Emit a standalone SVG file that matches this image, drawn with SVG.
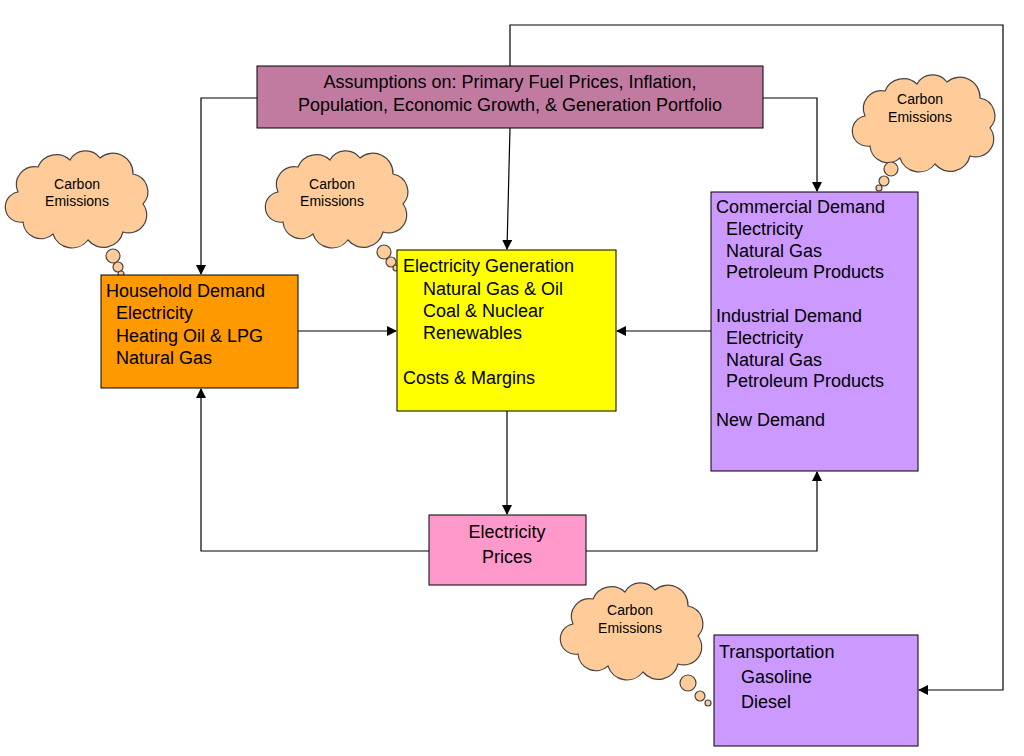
<svg xmlns="http://www.w3.org/2000/svg" width="1024" height="756" viewBox="0 0 1024 756">
<style>
text{font-family:"Liberation Sans",Arial,sans-serif;fill:#000}
.t{font-size:18px}
.c{font-size:14px;text-anchor:middle}
.box{stroke:#000;stroke-width:1}
.cl{fill:#FFCC99;stroke:#444;stroke-width:1.2}
.ln{fill:none;stroke:#000;stroke-width:1.2}
</style>
<defs>
<marker id="a" markerWidth="10" markerHeight="10" refX="9" refY="5" orient="auto" markerUnits="userSpaceOnUse">
<path d="M0,0 L10,5 L0,10 Z" fill="#000"/>
</marker>
<path id="cloud" d="M10,40 A18,18 0 0 1 30,15 A20,20 0 0 1 62,8 A18,18 0 0 1 92,6 A20,20 0 0 1 125,22 A18,18 0 0 1 135,52 A18,18 0 0 1 115,80 A20,20 0 0 1 80,88 A20,20 0 0 1 45,82 A18,18 0 0 1 15,70 A15,15 0 0 1 10,40 Z"/>
</defs>
<rect width="1024" height="756" fill="#fff"/>
<g id="connectors">
<polyline class="ln" points="257,98 201,98 201,274" marker-end="url(#a)"/>
<line class="ln" x1="510" y1="128" x2="507" y2="249" marker-end="url(#a)"/>
<polyline class="ln" points="763,98 817,98 817,191" marker-end="url(#a)"/>
<line class="ln" x1="298" y1="331" x2="396" y2="331" marker-end="url(#a)"/>
<line class="ln" x1="711" y1="331" x2="617" y2="331" marker-end="url(#a)"/>
<line class="ln" x1="507" y1="411" x2="507" y2="514" marker-end="url(#a)"/>
<polyline class="ln" points="429,551 201,551 201,389" marker-end="url(#a)"/>
<polyline class="ln" points="586,551 817,551 817,472" marker-end="url(#a)"/>
<polyline class="ln" points="510,66 510,25 1003,25 1003,690 919,690" marker-end="url(#a)"/>
</g>
<g id="cloud1">
<use href="#cloud" class="cl" transform="translate(8,152)"/>
<circle class="cl" cx="113" cy="256" r="7"/><circle class="cl" cx="118" cy="267" r="5"/><circle class="cl" cx="121" cy="274" r="3"/>
<text class="c" x="77" y="189">Carbon</text><text class="c" x="77" y="206">Emissions</text>
</g>
<g id="cloud2">
<use href="#cloud" class="cl" transform="translate(268,152)"/>
<circle class="cl" cx="384" cy="252" r="7"/><circle class="cl" cx="391" cy="262" r="5"/><circle class="cl" cx="396" cy="268" r="3"/>
<text class="c" x="332" y="189">Carbon</text><text class="c" x="332" y="206">Emissions</text>
</g>
<g id="cloud3">
<use href="#cloud" class="cl" transform="translate(855,76)"/>
<circle class="cl" cx="891" cy="169" r="7"/><circle class="cl" cx="884" cy="181" r="5"/><circle class="cl" cx="879" cy="188" r="3"/>
<text class="c" x="920" y="104">Carbon</text><text class="c" x="920" y="122">Emissions</text>
</g>
<g id="cloud4">
<use href="#cloud" class="cl" transform="translate(563,584)"/>
<circle class="cl" cx="688" cy="683" r="8"/><circle class="cl" cx="700" cy="696" r="5"/><circle class="cl" cx="708" cy="703" r="3"/>
<text class="c" x="630" y="615">Carbon</text><text class="c" x="630" y="633">Emissions</text>
</g>
<g id="assumptions">
<rect class="box" x="257" y="66" width="506" height="62" fill="#C27BA0"/>
<text class="t" x="510" y="88" text-anchor="middle">Assumptions on: Primary Fuel Prices, Inflation,</text>
<text class="t" x="510" y="111" text-anchor="middle">Population, Economic Growth, &amp; Generation Portfolio</text>
</g>
<g id="household">
<rect class="box" x="101" y="275" width="197" height="113" fill="#FF9900"/>
<text class="t" x="106" y="297">Household Demand</text>
<text class="t" x="116" y="319">Electricity</text>
<text class="t" x="116" y="342">Heating Oil &amp; LPG</text>
<text class="t" x="116" y="364">Natural Gas</text>
</g>
<g id="generation">
<rect class="box" x="397" y="250" width="219" height="161" fill="#FFFF00"/>
<text class="t" x="403" y="272">Electricity Generation</text>
<text class="t" x="423" y="295">Natural Gas &amp; Oil</text>
<text class="t" x="423" y="317">Coal &amp; Nuclear</text>
<text class="t" x="423" y="339">Renewables</text>
<text class="t" x="403" y="384">Costs &amp; Margins</text>
</g>
<g id="commercial">
<rect class="box" x="711" y="192" width="207" height="279" fill="#CC99FF"/>
<text class="t" x="716" y="213">Commercial Demand</text>
<text class="t" x="726" y="235">Electricity</text>
<text class="t" x="726" y="257">Natural Gas</text>
<text class="t" x="726" y="278">Petroleum Products</text>
<text class="t" x="716" y="322">Industrial Demand</text>
<text class="t" x="726" y="344">Electricity</text>
<text class="t" x="726" y="366">Natural Gas</text>
<text class="t" x="726" y="387">Petroleum Products</text>
<text class="t" x="716" y="426">New Demand</text>
</g>
<g id="prices">
<rect class="box" x="429" y="515" width="157" height="70" fill="#FF99CC"/>
<text class="t" x="507" y="538" text-anchor="middle">Electricity</text>
<text class="t" x="507" y="563" text-anchor="middle">Prices</text>
</g>
<g id="transportation">
<rect class="box" x="714" y="635" width="204" height="111" fill="#CC99FF"/>
<text class="t" x="719" y="658">Transportation</text>
<text class="t" x="741" y="683">Gasoline</text>
<text class="t" x="741" y="708">Diesel</text>
</g>
</svg>
